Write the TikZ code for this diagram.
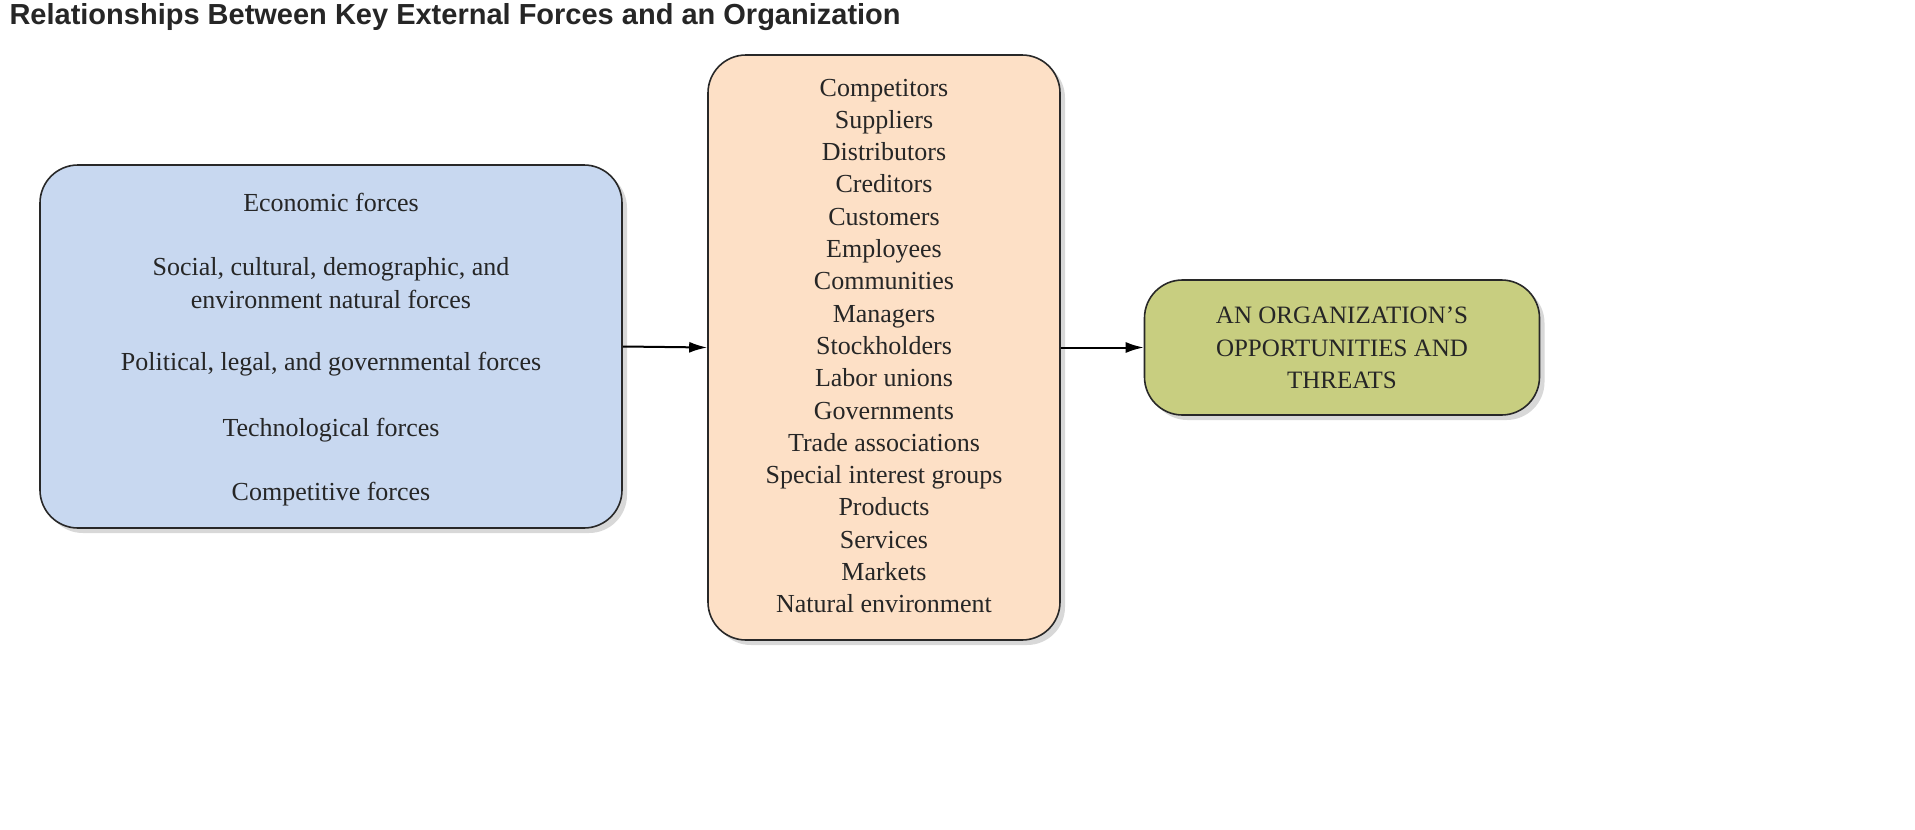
\documentclass[tikz,border=0pt]{standalone}
\usepackage{fontspec}
\setmainfont{Liberation Serif}
\newfontfamily\titlefont{Liberation Sans}
\usetikzlibrary{shadows,arrows.meta}
\definecolor{bluef}{RGB}{200,216,240}
\definecolor{peach}{RGB}{253,224,198}
\definecolor{olive}{RGB}{200,206,128}
\definecolor{edge}{RGB}{40,40,40}
\tikzset{
  boxs/.style={draw=edge,line width=1.6pt,rounded corners=38pt,drop shadow={shadow xshift=5pt,shadow yshift=-5pt,fill=black!30}},
  txt/.style={font=\fontsize{26}{32.3}\selectfont,align=center,text=black!85},
  arr/.style={-{Latex[length=18pt,width=11pt]},line width=2pt}
}
\begin{document}
\begin{tikzpicture}[x=1pt,y=-1pt]
\useasboundingbox (0,0) rectangle (1915,830);
\fill[white] (0,0) rectangle (1915,830);
\node[anchor=base west,font=\titlefont\bfseries\fontsize{29}{34}\selectfont,text=black!85] (title) at (6,24) {Relationships Between Key External Forces and an Organization};
\node[boxs,fill=bluef,minimum width=582pt,minimum height=363pt] (left) at (331,346.5) {};
\node[boxs,fill=peach,minimum width=352pt,minimum height=585pt] (mid) at (884,347.5) {};
\node[boxs,fill=olive,minimum width=395pt,minimum height=135pt] (right) at (1342,347.5) {};
\node[txt] (l1) at (331,202) {Economic forces};
\node[txt] (l2) at (331,283) {Social, cultural, demographic, and\\environment natural forces};
\node[txt] (l3) at (331,364) {Political, legal, and governmental forces};
\node[txt] (l4) at (331,430) {Technological forces};
\node[txt] (l5) at (331,494) {Competitive forces};
\node[txt] (mtxt) at (884,346) {Competitors\\Suppliers\\Distributors\\Creditors\\Customers\\Employees\\Communities\\Managers\\Stockholders\\Labor unions\\Governments\\Trade associations\\Special interest groups\\Products\\Services\\Markets\\Natural environment};
\node[txt,font=\fontsize{25}{32.3}\selectfont] (rtxt) at (1342,348) {AN ORGANIZATION'S\\OPPORTUNITIES AND\\THREATS};
\draw[arr] (left.east) -- (mid.west);
\draw[arr] (mid.east) -- (right.west);
\end{tikzpicture}
\end{document}
